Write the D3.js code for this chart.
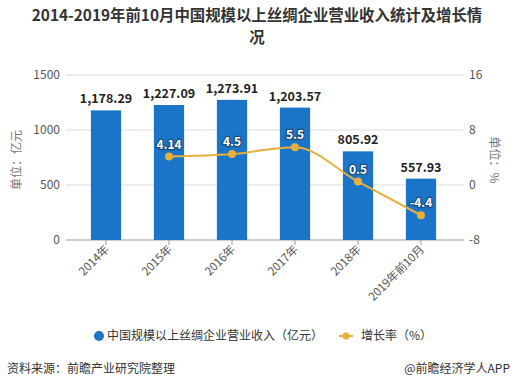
<!DOCTYPE html>
<html>
<head>
<meta charset="utf-8">
<script src="https://cdn.jsdelivr.net/npm/d3@7"></script>
<style>
  body { margin: 0; background: #fff; }
  svg { font-family: "Microsoft YaHei", "Noto Sans CJK SC", sans-serif; }
</style>
</head>
<body>
<div id="chart"></div>
<script>
// data
const years = ['2014年', '2015年', '2016年', '2017年', '2018年', '2019年前10月'];
const revenue = [1178.29, 1227.09, 1273.91, 1203.57, 805.92, 557.93];
const growth = [null, 4.14, 4.5, 5.5, 0.5, -4.4];
const leftTicks = [0, 500, 1000, 1500];
const rightTicks = [-8, 0, 8, 16];

const W = 514, H = 389;
const svg = d3.select('#chart').append('svg').attr('width', W).attr('height', H);

const plotTop = 75, plotBottom = 240;
const x = d3.scaleBand().domain(years).range([74.5, 452.5]).paddingInner(0.52).paddingOuter(0.26);
const yL = d3.scaleLinear().domain([0, 1500]).range([plotBottom, plotTop]);
const yR = d3.scaleLinear().domain([-8, 16]).range([plotBottom, plotTop]);

// title (two lines)
svg.append('text').attr('x', 257).attr('y', 21).attr('text-anchor', 'middle')
  .attr('font-size', 15.4).attr('font-weight', 'bold').attr('fill', '#333')
  .text('2014-2019年前10月中国规模以上丝绸企业营业收入统计及增长情');
svg.append('text').attr('x', 257).attr('y', 42.5).attr('text-anchor', 'middle')
  .attr('font-size', 15.4).attr('font-weight', 'bold').attr('fill', '#333')
  .text('况');

// gridlines
svg.append('g').selectAll('line').data(leftTicks).join('line')
  .attr('x1', 66).attr('x2', 464)
  .attr('y1', d => yL(d)).attr('y2', d => yL(d))
  .attr('stroke', d => d === 0 ? '#999' : '#ddd').attr('stroke-width', 1);

// left axis labels
svg.append('g').selectAll('text').data(leftTicks).join('text')
  .attr('x', 60).attr('y', d => yL(d) + 4).attr('text-anchor', 'end')
  .attr('font-size', 12).attr('fill', '#555').text(d => d);

// right axis labels
svg.append('g').selectAll('text').data(rightTicks).join('text')
  .attr('x', 469).attr('y', d => yR(d) + 4).attr('text-anchor', 'start')
  .attr('font-size', 12).attr('fill', '#555').text(d => d);

// axis titles
svg.append('text').attr('transform', 'translate(21,160) rotate(-90)')
  .attr('text-anchor', 'middle').attr('font-size', 12).attr('fill', '#777').text('单位：亿元');
svg.append('text').attr('transform', 'translate(490,160) rotate(90)')
  .attr('text-anchor', 'middle').attr('font-size', 12).attr('fill', '#777').text('单位：%');

// bars
svg.append('g').selectAll('rect').data(revenue).join('rect')
  .attr('x', (d, i) => x(years[i]))
  .attr('width', x.bandwidth())
  .attr('y', d => yL(d))
  .attr('height', d => plotBottom - yL(d))
  .attr('fill', '#1a75c9');

// bar labels
svg.append('g').selectAll('text').data(revenue).join('text')
  .attr('x', (d, i) => x(years[i]) + x.bandwidth() / 2)
  .attr('y', d => yL(d) - 7)
  .attr('text-anchor', 'middle').attr('font-size', 12.5).attr('font-weight', 'bold')
  .attr('fill', '#222').text(d => d3.format(',.2f')(d));

// x ticks + labels
const xg = svg.append('g');
years.forEach(yr => {
  const cx = x(yr) + x.bandwidth() / 2;
  xg.append('line').attr('x1', cx).attr('x2', cx).attr('y1', plotBottom).attr('y2', plotBottom + 5).attr('stroke', '#999');
  xg.append('text').attr('transform', `translate(${cx + 4},${plotBottom + 10}) rotate(-45)`)
    .attr('text-anchor', 'end').attr('font-size', 11.5).attr('fill', '#555').text(yr);
});

// growth line
const pts = growth.map((g, i) => ({ g, yr: years[i] })).filter(p => p.g !== null);
const line = d3.line()
  .x(p => x(p.yr) + x.bandwidth() / 2)
  .y(p => yR(p.g))
  .curve(d3.curveMonotoneX);
svg.append('path').datum(pts).attr('d', line)
  .attr('fill', 'none').attr('stroke', '#e8b03a').attr('stroke-width', 2);
svg.append('g').selectAll('circle').data(pts).join('circle')
  .attr('cx', p => x(p.yr) + x.bandwidth() / 2).attr('cy', p => yR(p.g))
  .attr('r', 4).attr('fill', '#e8b03a');
svg.append('g').selectAll('text').data(pts).join('text')
  .attr('x', p => x(p.yr) + x.bandwidth() / 2).attr('y', p => yR(p.g) - 8)
  .attr('text-anchor', 'middle').attr('font-size', 12).attr('font-weight', 'bold')
  .attr('fill', '#fff').attr('stroke', '#1a4f80').attr('stroke-width', 2.5)
  .attr('paint-order', 'stroke').text(p => p.g);

// legend
svg.append('circle').attr('cx', 99).attr('cy', 336).attr('r', 5).attr('fill', '#1a75c9');
svg.append('text').attr('x', 107).attr('y', 340).attr('font-size', 12).attr('fill', '#333')
  .text('中国规模以上丝绸企业营业收入（亿元）');
svg.append('line').attr('x1', 339).attr('x2', 353).attr('y1', 336).attr('y2', 336)
  .attr('stroke', '#e8b03a').attr('stroke-width', 2);
svg.append('circle').attr('cx', 346).attr('cy', 336).attr('r', 3.5).attr('fill', '#e8b03a');
svg.append('text').attr('x', 361).attr('y', 340).attr('font-size', 12).attr('fill', '#333')
  .text('增长率（%）');

// footer
svg.append('text').attr('x', 7).attr('y', 373).attr('font-size', 12).attr('fill', '#333')
  .text('资料来源：前瞻产业研究院整理');
svg.append('text').attr('x', 510).attr('y', 373).attr('text-anchor', 'end').attr('font-size', 12).attr('fill', '#333')
  .text('@前瞻经济学人APP');
</script>
</body>
</html>
